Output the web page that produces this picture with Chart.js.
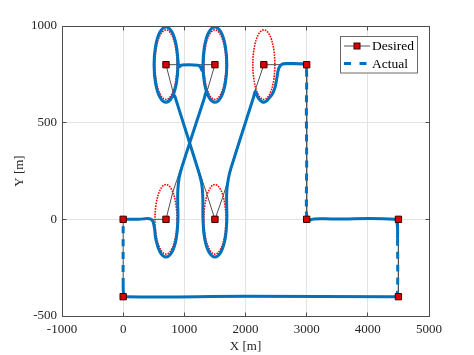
<!DOCTYPE html>
<html><head><meta charset="utf-8">
<script src="https://cdn.jsdelivr.net/npm/chart.js@4/dist/chart.umd.min.js"></script>
<style>html,body{margin:0;padding:0;background:#fff}canvas{display:block}</style>
</head><body>
<canvas id="c" width="474" height="355"></canvas>
<script>
// ---- data ----
const xTicks = [-1000, 0, 1000, 2000, 3000, 4000, 5000];
const yTicks = [-500, 0, 500, 1000];
const xTitle = 'X [m]';
const yTitle = 'Y [m]';
const seriesNames = ['Desired', 'Actual'];

// desired waypoints (red squares)
const waypointX = [0, 700, 1500, 700, 1500, 2300, 3000, 3000, 4500, 4500, 0];
const waypointY = [0, 0, 800, 800, 0, 800, 800, 0, 0, -400, -400];

// desired path (thin dark line)
const desiredX = [0, 700, 812, 1376, 1500, 700, 814, 1372, 1500, 1634, 2168, 2300, 3000, 3000, 4500, 4500, 0, 0];
const desiredY = [0, 0, 142, 667, 800, 800, 660, 127, 0, 120, 677, 800, 800, 0, 0, -400, -400, 0];

// desired loiter circles (centre and radius, metres)
const loiterX = [700, 1500, 700, 1500, 2300];
const loiterY = [0, 800, 800, 0, 800];
const loiterR = [180, 180, 180, 180, 180];

// actual flown path
const actualX = [0, 250, 460, 509, 531, 602, 700, 798, 869, 895, 892, 894, 915, 960, 1325,
  1362, 1402, 1500, 1598, 1669, 1695, 1669, 1598, 1500, 1402, 1331, 1305, 1331, 1402, 1500, 1598, 1669, 1695, 1669, 1598, 1500, 1402, 1331, 1305,
  1293, 1262, 1220, 960, 915, 897,
  869, 798, 700, 602, 531, 505, 531, 602, 700, 798, 869, 895, 869, 798, 700, 602, 531, 505, 531, 602, 700, 798,
  838, 862, 890, 1230, 1285, 1302,
  1305, 1331, 1402, 1500, 1598, 1669, 1695, 1692, 1695, 1720, 1760, 2130,
  2162, 2202, 2300, 2398, 2450, 2485, 2515, 2545, 2600, 2700, 2900, 2975,
  2998, 2995, 3000, 2996, 3012, 3055, 3120, 3400, 4440, 4480, 4486, 4486, 4470, 4420, 2000, 40, 8, 0, 0];
const actualY = [0, 0, 0, -41, -98, -169, -195, -169, -98, 0, 80, 150, 215, 270, 625,
  662, 631, 605, 631, 702, 800, 898, 969, 995, 969, 898, 800, 702, 631, 605, 631, 702, 800, 898, 969, 995, 969, 898, 800,
  770, 788, 797, 798, 790, 820,
  898, 969, 995, 969, 898, 800, 702, 631, 605, 631, 702, 800, 898, 969, 995, 969, 898, 800, 702, 631, 605, 631,
  640, 620, 592, 250, 182, 110,
  0, -98, -169, -195, -169, -98, 0, 80, 150, 210, 262, 630,
  662, 631, 605, 631, 655, 685, 735, 782, 803, 806, 805, 800,
  775, 560, 300, 40, 5, -3, 2, 2, 0, -25, -100, -370, -396, -400, -398, -400, -385, -340, 0];

// ---- rendering ----
const FONT = '"Liberation Serif", "Times New Roman", serif';
const toPts = (xs, ys) => xs.map((x, i) => ({x: x, y: ys[i]}));
const alignPx = p => Math.round(p - 0.5) + 0.5;

// red dotted loiter circles, drawn just after the desired path (under the actual path)
const circlesPlugin = {
  id: 'loiterCircles',
  afterDatasetDraw(chart, args) {
    if (args.index !== 2) return;
    const {ctx, scales: {x, y}} = chart;
    ctx.save();
    ctx.strokeStyle = '#ff0000';
    ctx.lineWidth = 1.6;
    ctx.setLineDash([1.6, 1.1]);
    for (let i = 0; i < loiterX.length; i++) {
      const cx = x.getPixelForValue(loiterX[i]);
      const cy = y.getPixelForValue(loiterY[i]);
      const rx = Math.abs(x.getPixelForValue(loiterX[i] + loiterR[i]) - cx);
      const ry = Math.abs(y.getPixelForValue(loiterY[i] + loiterR[i]) - cy);
      ctx.beginPath();
      ctx.ellipse(cx, cy, rx, ry, 0, 0, Math.PI * 2);
      ctx.stroke();
    }
    ctx.restore();
  }
};

const boxPlugin = {
  id: 'axesBox',
  afterDatasetsDraw(chart) {
    const {ctx, chartArea: a, scales: {x, y}} = chart;
    ctx.save();
    ctx.strokeStyle = '#4d4d4d';
    ctx.lineWidth = 1;
    const L = alignPx(a.left), R = alignPx(a.right), T = alignPx(a.top), B = alignPx(a.bottom);
    ctx.beginPath();
    ctx.rect(L, T, R - L, B - T);
    const tl = 4;
    xTicks.forEach(v => {
      const p = alignPx(x.getPixelForValue(v));
      ctx.moveTo(p, B); ctx.lineTo(p, B - tl);
      ctx.moveTo(p, T); ctx.lineTo(p, T + tl);
    });
    yTicks.forEach(v => {
      const p = alignPx(y.getPixelForValue(v));
      ctx.moveTo(L, p); ctx.lineTo(L + tl, p);
      ctx.moveTo(R, p); ctx.lineTo(R - tl, p);
    });
    ctx.stroke();
    ctx.restore();
  }
};

const legendPlugin = {
  id: 'boxLegend',
  afterDraw(chart) {
    const {ctx, chartArea: a} = chart;
    const bx = a.right - 88.5, by = a.top + 10.5, bw = 77, bh = 36.5;
    ctx.save();
    ctx.fillStyle = '#ffffff';
    ctx.fillRect(bx, by, bw, bh);
    ctx.strokeStyle = '#6a6a6a';
    ctx.lineWidth = 1;
    ctx.strokeRect(alignPx(bx), alignPx(by), bw, bh);
    const r1 = by + 9.5, r2 = by + 27;
    // Desired sample
    ctx.strokeStyle = '#555555';
    ctx.lineWidth = 1;
    ctx.beginPath(); ctx.moveTo(bx + 3.5, r1); ctx.lineTo(bx + 29.5, r1); ctx.stroke();
    ctx.fillStyle = '#dd0000';
    ctx.strokeStyle = '#3a0000';
    ctx.fillRect(bx + 13.5, r1 - 3, 6, 6);
    ctx.strokeRect(bx + 13.5, r1 - 3, 6, 6);
    // Actual sample
    ctx.strokeStyle = '#0072BD';
    ctx.lineWidth = 3;
    ctx.setLineDash([7, 8.5]);
    ctx.beginPath(); ctx.moveTo(bx + 3.5, r2); ctx.lineTo(bx + 27, r2); ctx.stroke();
    ctx.setLineDash([]);
    ctx.fillStyle = '#000000';
    ctx.font = '13.5px ' + FONT;
    ctx.textBaseline = 'middle';
    ctx.textAlign = 'left';
    ctx.fillText(seriesNames[0], bx + 31.5, r1 + 0.5);
    ctx.fillText(seriesNames[1], bx + 31.5, r2 + 0.5);
    ctx.restore();
  }
};

const isVerticalSeg = c => Math.abs(c.p1.x - c.p0.x) < 2.5 && Math.abs(c.p1.y - c.p0.y) > 30;

new Chart(document.getElementById('c'), {
  type: 'line',
  data: {
    datasets: [
      {
        label: seriesNames[0] + ' waypoints',
        data: toPts(waypointX, waypointY),
        showLine: false,
        pointStyle: 'rect',
        pointRadius: 4.5,
        pointBackgroundColor: '#dd0000',
        pointBorderColor: '#3a0000',
        pointBorderWidth: 1,
        order: 0
      },
      {
        label: seriesNames[1],
        data: toPts(actualX, actualY),
        borderColor: '#0072BD',
        borderWidth: 3,
        pointRadius: 0,
        tension: 0.4,
        fill: false,
        borderCapStyle: 'butt',
        borderJoinStyle: 'round',
        segment: {borderDash: c => isVerticalSeg(c) ? [7, 6] : undefined},
        order: 1
      },
      {
        label: seriesNames[0],
        data: toPts(desiredX, desiredY),
        borderColor: '#505050',
        borderWidth: 1,
        pointRadius: 0,
        tension: 0,
        fill: false,
        order: 2
      }
    ]
  },
  options: {
    responsive: false,
    animation: false,
    devicePixelRatio: 1,
    events: [],
    layout: {padding: {left: 0, right: 45, top: 26, bottom: 0}},
    plugins: {legend: {display: false}, tooltip: {enabled: false}},
    scales: {
      x: {
        type: 'linear',
        min: xTicks[0], max: xTicks[xTicks.length - 1],
        afterBuildTicks: s => { s.ticks = xTicks.map(v => ({value: v})); },
        afterFit: s => { s.height = 39; },
        grid: {color: '#e3e3e3', lineWidth: 1, drawTicks: false},
        border: {display: false},
        ticks: {padding: 6, color: '#262626', font: {family: FONT, size: 13}, callback: v => String(v), maxRotation: 0},
        title: {display: true, text: xTitle, color: '#262626', font: {family: FONT, size: 13}, padding: {top: 0, bottom: 1}}
      },
      y: {
        type: 'linear',
        min: yTicks[0], max: yTicks[yTicks.length - 1],
        afterBuildTicks: s => { s.ticks = yTicks.map(v => ({value: v})); },
        afterFit: s => { s.width = 62; },
        grid: {color: '#e3e3e3', lineWidth: 1, drawTicks: false},
        border: {display: false},
        ticks: {padding: 5, color: '#262626', font: {family: FONT, size: 13}, callback: v => String(v)},
        title: {display: true, text: yTitle, color: '#262626', font: {family: FONT, size: 13}, padding: {top: 11.5, bottom: 0}}
      }
    }
  },
  plugins: [circlesPlugin, boxPlugin, legendPlugin]
});
</script>
</body></html>
